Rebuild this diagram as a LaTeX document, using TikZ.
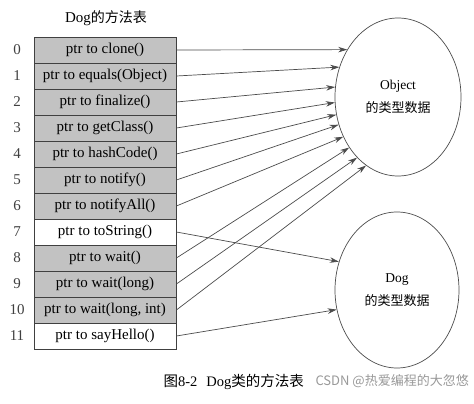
\documentclass[tikz,border=0pt]{standalone}
\usepackage{fontspec}
\setmainfont{Liberation Serif}
\newfontfamily\cjk{Noto Sans CJK SC}
\usetikzlibrary{shapes.geometric,arrows.meta}
\begin{document}
\begin{tikzpicture}[x=1pt,y=-1pt,
 cell/.style={draw=black!75, line width=0.8pt, minimum width=142pt, minimum height=26pt, inner sep=0pt, font=\fontsize{15}{17}\selectfont, anchor=center},
 greycell/.style={cell, fill=black!24},
 plaincell/.style={cell, fill=white},
 idx/.style={font=\fontsize{15}{17}\selectfont, text=black!75},
 blob/.style={ellipse, draw=black!70, line width=0.7pt, inner sep=0pt, align=center, font=\fontsize{13.5}{23}\selectfont},
 ptr/.style={draw=black!70, line width=0.7pt, -{Stealth[length=9pt,width=5.5pt]}}
]
\useasboundingbox[fill=white] (0,0) rectangle (474,404);

\node[font=\fontsize{15}{17}\selectfont] (title) at (106,18) {Dog{\cjk\fontsize{14}{17}\selectfont 的方法表}};

\node[greycell] (r0) at (105,50) {ptr to clone()};
\node[greycell] (r1) at (105,76) {ptr to equals(Object)};
\node[greycell] (r2) at (105,102) {ptr to finalize()};
\node[greycell] (r3) at (105,128) {ptr to getClass()};
\node[greycell] (r4) at (105,154) {ptr to hashCode()};
\node[greycell] (r5) at (105,180) {ptr to notify()};
\node[greycell] (r6) at (105,206) {ptr to notifyAll()};
\node[plaincell] (r7) at (105,232) {ptr to toString()};
\node[greycell] (r8) at (105,258) {ptr to wait()};
\node[greycell] (r9) at (105,284) {ptr to wait(long)};
\node[greycell] (r10) at (105,310) {ptr to wait(long, int)};
\node[plaincell] (r11) at (105,336) {ptr to sayHello()};

\foreach \i in {0,...,11} {
  \node[idx] (n\i) at (17,50+26*\i) {\i};
}

\node[blob, minimum width=126pt, minimum height=158pt] (obj) at (398,97) {Object\\{\cjk\fontsize{13}{23}\selectfont 的类型数据}};
\node[blob, minimum width=124pt, minimum height=156pt] (dog) at (397,290) {Dog\\{\cjk\fontsize{13}{23}\selectfont 的类型数据}};

\draw[ptr] (r0.east) -- (obj.137);
\draw[ptr] (r1.east) -- (obj.153);
\draw[ptr] (r2.east) -- (obj.171);
\draw[ptr] (r3.east) -- (obj.185);
\draw[ptr] (r4.east) -- (obj.196);
\draw[ptr] (r5.east) -- (obj.205);
\draw[ptr] (r6.east) -- (obj.216);
\draw[ptr] (r8.east) -- (obj.226);
\draw[ptr] (r9.east) -- (obj.236);
\draw[ptr] (r10.east) -- (obj.245);
\draw[ptr] (r7.east) -- (dog.154);
\draw[ptr] (r11.east) -- (dog.198);

\node[anchor=west, font=\fontsize{14.5}{16}\selectfont] (cap) at (160,382) {{\cjk 图}8-2\hspace{9pt}Dog{\cjk 类的方法表}};
\node[anchor=west, text=black!40, font=\cjk\fontsize{13}{15}\selectfont] (wm) at (312,381) {CSDN @热爱编程的大忽悠};
\end{tikzpicture}
\end{document}
